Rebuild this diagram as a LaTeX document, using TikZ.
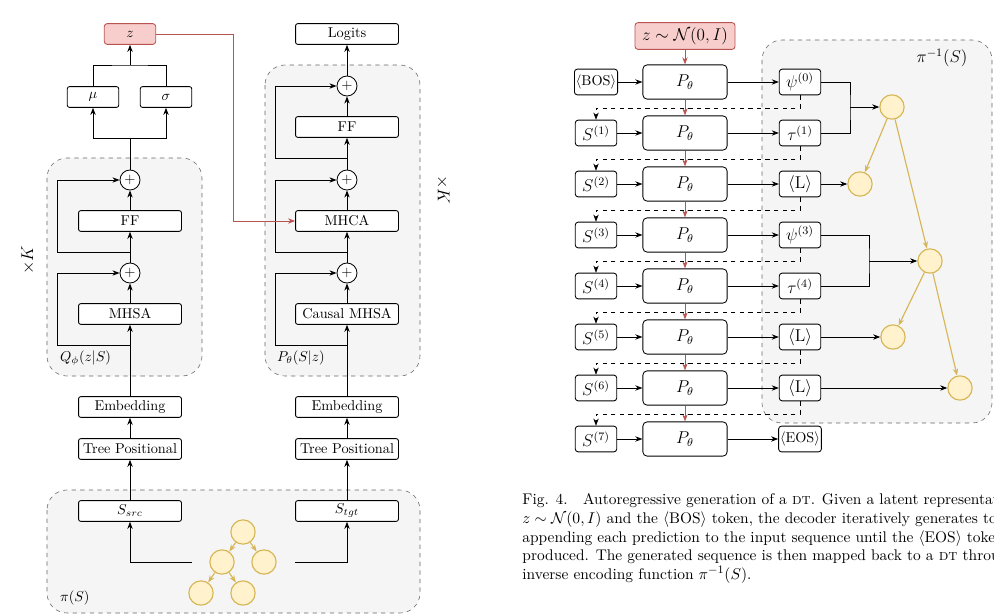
\documentclass[tikz,border=0pt]{standalone}
\usetikzlibrary{arrows.meta,positioning,calc}
\definecolor{zred}{HTML}{B85450}
\definecolor{zfill}{HTML}{F8CECC}
\definecolor{tyel}{HTML}{D6B656}
\definecolor{tfill}{HTML}{FFF2CC}
\definecolor{gfill}{HTML}{F5F5F5}
\tikzset{
	box/.style = {draw, rounded corners=1.5pt, minimum width=72pt, minimum height=14.5pt, inner sep=1pt, fill=white},
	sbox/.style = {box, minimum width=36pt},
	pbox/.style = {draw, rounded corners=3pt, minimum width=59pt, minimum height=24pt, fill=white, font=\large},
	tok/.style = {draw, rounded corners=2pt, minimum width=29pt, minimum height=18pt, inner sep=1pt, fill=white, font=\large},
	zbox/.style = {draw=zred, fill=zfill, rounded corners=2pt},
	plus/.style = {draw, circle, fill=white, minimum size=14pt, inner sep=0pt},
	tnode/.style = {draw=tyel, fill=tfill, circle, thick, minimum size=17pt, inner sep=0pt},
	grp/.style = {draw=black!60, dashed, fill=gfill, rounded corners=14pt},
	redarr/.style = {zred, ->},
	yarr/.style = {tyel, thick, ->},
}
\begin{document}
\begin{tikzpicture}[x=0.7pt, y=-0.7pt, >={Stealth[length=5pt]}, semithick]
	\clip (0,0) rectangle (994,615);
	% groups
	\draw[grp, thin] (47,158) rectangle (202,376);
	\draw[grp, thin] (265,65) rectangle (420,376);
	\draw[grp, thin] (47,490) rectangle (420,613);
	\draw[grp, thin] (762,40) rectangle (992,423);
	\node[anchor=west] at (55,358) {$Q_\phi(z|S)$};
	\node[anchor=west] at (272,358) {$P_\theta(S|z)$};
	\node[anchor=west] at (55,598) {$\pi(S)$};
	\node[font=\large] at (942,58) {$\pi^{-1}(S)$};
	\node[rotate=90, font=\large] at (28,260) {$\times K$};
	\node[rotate=-90, font=\large] at (443,190) {$\times K$};
	
	% encoder
	\node[zbox, minimum width=36pt, minimum height=14.5pt] (z) at (130,34) {$z$};
	\node[sbox] (mu) at (93,97) {$\mu$};
	\node[sbox] (sig) at (166,97) {$\sigma$};
	\node[plus] (eadd1) at (130,180) {$+$};
	\node[box] (eff) at (130,221) {FF};
	\node[plus] (eadd2) at (130,273) {$+$};
	\node[box] (emhsa) at (130,314) {MHSA};
	\node[box] (eemb) at (130,407) {Embedding};
	\node[box] (epos) at (130,449) {Tree Positional};
	\node[box] (ssrc) at (130,511) {$S_{src}$};
	
	\coordinate (ztop) at (130,65);
	\coordinate (msplit) at (130,138);
	\draw[->] (ztop) -- (z);
	\draw (mu.north) |- (ztop) -| (sig.north);
	\draw[->] (msplit) -| (mu);
	\draw[->] (msplit) -| (sig);
	\draw (eadd1) -- (msplit);
	\draw[->] (eff) -- (eadd1);
	\draw[->] (eadd2) -- (eff);
	\draw[->] (emhsa) -- (eadd2);
	\draw[->] (eemb) -- (emhsa);
	\draw[->] (epos) -- (eemb);
	\draw[->] (ssrc) -- (epos);
	\coordinate (eskip1) at (130,252);
	\coordinate (eskip2) at (130,345);
	\draw[->] (eskip1) -- (57,252) |- (eadd1);
	\draw[->] (eskip2) -- (57,345) |- (eadd2);
	
	% decoder
	\node[box] (logits) at (347,34) {Logits};
	\node[plus] (dadd1) at (347,86) {$+$};
	\node[box] (dff) at (347,127) {FF};
	\node[plus] (dadd2) at (347,180) {$+$};
	\node[box] (mhca) at (347,221) {MHCA};
	\node[plus] (dadd3) at (347,273) {$+$};
	\node[box] (dmhsa) at (347,314) {Causal MHSA};
	\node[box] (demb) at (347,407) {Embedding};
	\node[box] (dpos) at (347,449) {Tree Positional};
	\node[box] (stgt) at (347,511) {$S_{tgt}$};
	
	\draw[->] (dadd1) -- (logits);
	\draw[->] (dff) -- (dadd1);
	\draw[->] (dadd2) -- (dff);
	\draw[->] (mhca) -- (dadd2);
	\draw[->] (dadd3) -- (mhca);
	\draw[->] (dmhsa) -- (dadd3);
	\draw[->] (demb) -- (dmhsa);
	\draw[->] (dpos) -- (demb);
	\draw[->] (stgt) -- (dpos);
	\coordinate (dskip1) at (347,158);
	\coordinate (dskip2) at (347,252);
	\coordinate (dskip3) at (347,345);
	\draw[->] (dskip1) -- (275,158) |- (dadd1);
	\draw[->] (dskip2) -- (275,252) |- (dadd2);
	\draw[->] (dskip3) -- (275,345) |- (dadd3);
	\draw[redarr] (z.east) -- (233,34) |- (mhca.west);
	
	% input tree
	\node[tnode] (a1) at (243,532) {};
	\node[tnode] (a2) at (222,562) {};
	\node[tnode] (a3) at (264,562) {};
	\node[tnode] (a4) at (201,593) {};
	\node[tnode] (a5) at (243,593) {};
	\draw[yarr] (a1) -- (a2);
	\draw[yarr] (a1) -- (a3);
	\draw[yarr] (a2) -- (a4);
	\draw[yarr] (a2) -- (a5);
	\coordinate (tl) at (192,562);
	\coordinate (tr) at (295,562);
	\draw[->] (tl) -| (ssrc);
	\draw[->] (tr) -| (stgt);
	
	% generation
	\node[zbox, minimum width=70pt, minimum height=18pt, font=\large] (zn) at (685,36) {$z\sim\mathcal{N}(0,I)$};
	\foreach \i/\tk/\ou in {1/{\normalsize$\langle$BOS$\rangle$}/{$\psi^{(0)}$},
			2/{$S^{(1)}$}/{$\tau^{(1)}$},
			3/{$S^{(2)}$}/{$\langle$L$\rangle$},
			4/{$S^{(3)}$}/{$\psi^{(3)}$},
			5/{$S^{(4)}$}/{$\tau^{(4)}$},
			6/{$S^{(5)}$}/{$\langle$L$\rangle$},
			7/{$S^{(6)}$}/{$\langle$L$\rangle$},
			8/{$S^{(7)}$}/{\normalsize$\langle$EOS$\rangle$}}{
		\node[pbox] (p\i) at (685,{82+51*(\i-1)}) {$P_\theta$};
		\node[tok] (in\i) at (596,{82+51*(\i-1)}) {\tk};
		\node[tok] (out\i) at (800,{82+51*(\i-1)}) {\ou};
		\draw[->] (in\i) -- (p\i);
		\draw[->] (p\i) -- (out\i);
	}
	\draw[redarr] (zn) -- (p1);
	\foreach \i [count=\j from 2] in {1,...,7}{
		\draw[redarr] (p\i) -- (p\j);
		\draw[dashed, thin, ->] (out\i.south) -- ++(0,12.5) -| (in\j.north);
	}
	
	% output tree
	\node[tnode] (b1) at (892,107) {};
	\node[tnode] (b2) at (860,184) {};
	\node[tnode] (b3) at (930,261) {};
	\node[tnode] (b4) at (893,337) {};
	\node[tnode] (b5) at (960,388) {};
	\coordinate (j1) at (850,107);
	\coordinate (j2) at (869,261);
	\draw (out1.east) -| (j1) |- (out2.east);
	\draw (out4.east) -| (j2) |- (out5.east);
	\draw[->] (j1) -- (b1);
	\draw[->] (j2) -- (b3);
	\draw[->] (out3) -- (b2);
	\draw[->] (out6) -- (b4);
	\draw[->] (out7) -- (b5);
	\draw[yarr] (b1) -- (b2);
	\draw[yarr] (b1) -- (b3);
	\draw[yarr] (b3) -- (b4);
	\draw[yarr] (b3) -- (b5);
	
	% caption
	\begin{scope}[every node/.style={anchor=base west, inner sep=0pt, font=\fontsize{10.8}{13}\selectfont}]
		\node at (522,504) {Fig. 4.\quad Autoregressive generation of a \textsc{dt}. Given a latent representation};
		\node at (522,523) {$z\sim\mathcal{N}(0,I)$ and the $\langle$BOS$\rangle$ token, the decoder iteratively generates tokens,};
		\node at (522,542) {appending each prediction to the input sequence until the $\langle$EOS$\rangle$ token is};
		\node at (522,560) {produced. The generated sequence is then mapped back to a \textsc{dt} through the};
		\node at (522,579) {inverse encoding function $\pi^{-1}(S)$.};
	\end{scope}
\end{tikzpicture}
\end{document}
